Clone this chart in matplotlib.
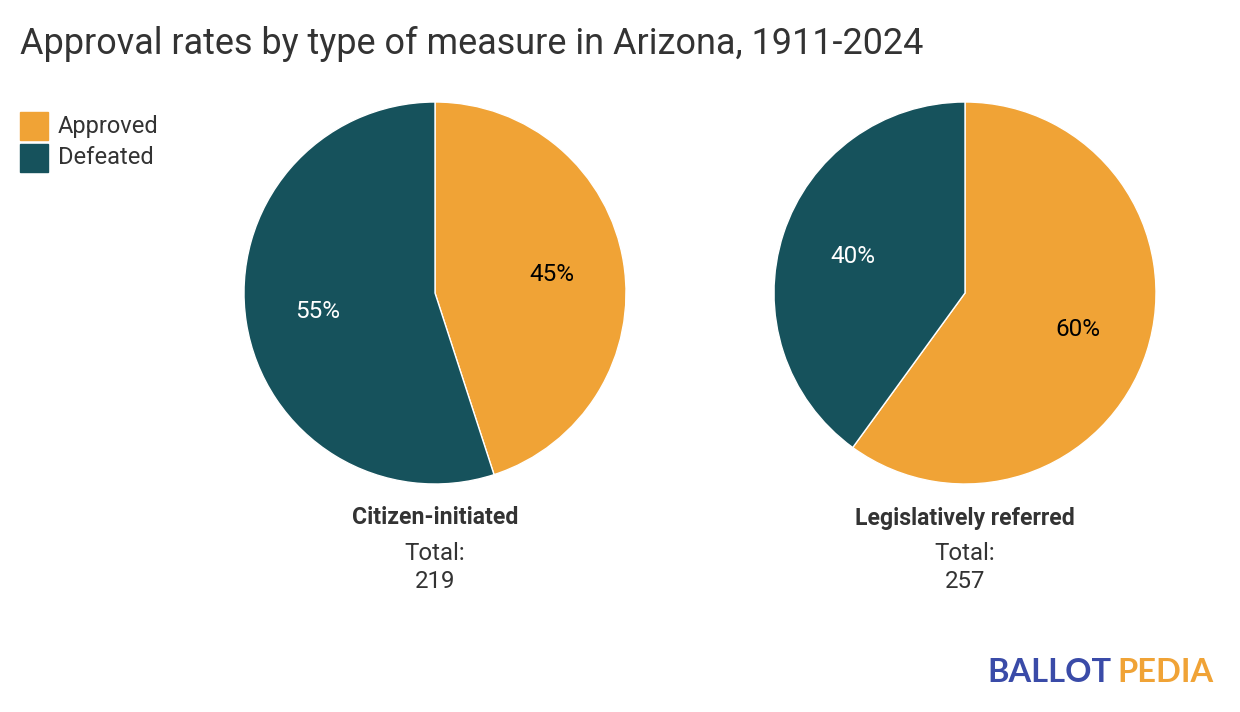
import matplotlib.pyplot as plt
from matplotlib.patches import Rectangle

plt.rcParams['font.family'] = ['Roboto', 'DejaVu Sans']

labels = ["Approved", "Defeated"]
colors = ["#F0A336", "#16525C"]
text_colors = ["black", "white"]

groups = ["Citizen-initiated", "Legislatively referred"]
shares = [[45, 55], [60, 40]]
totals = [219, 257]

W, H = 1240, 712
fig = plt.figure(figsize=(W / 100, H / 100), dpi=100)

centers_x = [435, 965]
cy = 293
r = 191

for i in range(2):
    cx = centers_x[i]
    ax = fig.add_axes([(cx - r) / W, (H - cy - r) / H, 2 * r / W, 2 * r / H])
    wedges, _, autotexts = ax.pie(
        shares[i], colors=colors, startangle=90, counterclock=False,
        autopct="%d%%", pctdistance=0.62, radius=1,
        wedgeprops=dict(edgecolor="white", linewidth=1),
    )
    for t, c in zip(autotexts, text_colors):
        t.set_color(c)
        t.set_fontsize(17.5)
    ax.set_xlim(-1, 1)
    ax.set_ylim(-1, 1)
    ax.set_aspect("equal")

    fig.text(cx / W, 1 - 518 / H, groups[i], ha="center", va="center",
             fontsize=16.6, fontweight="bold", color="#333333")
    fig.text(cx / W, 1 - 554 / H, "Total:", ha="center", va="center",
             fontsize=17.3, color="#333333")
    fig.text(cx / W, 1 - 581 / H, str(totals[i]), ha="center", va="center",
             fontsize=17.3, color="#333333")

fig.text(20 / W, 1 - 44 / H, "Approval rates by type of measure in Arizona, 1911-2024",
         ha="left", va="center", fontsize=25.9, color="#333333")

# legend
for j, (lab, c) in enumerate(zip(labels, colors)):
    top = 112 + j * 32
    fig.patches.append(Rectangle((20 / W, 1 - (top + 28) / H), 28 / W, 28 / H,
                                 transform=fig.transFigure, color=c))
    fig.text(58 / W, 1 - (top + 14) / H, lab, ha="left", va="center",
             fontsize=17, color="#333333")

fig.text(1112 / W, 1 - 673 / H, "BALLOT", ha="right", va="center",
         fontsize=23.5, fontweight="bold", color="#3A4BA8", family="Lato")
fig.text(1117 / W, 1 - 673 / H, "PEDIA", ha="left", va="center",
         fontsize=23.5, fontweight="bold", color="#F0A336", family="Lato")

fig.savefig("out.png", dpi=100)
